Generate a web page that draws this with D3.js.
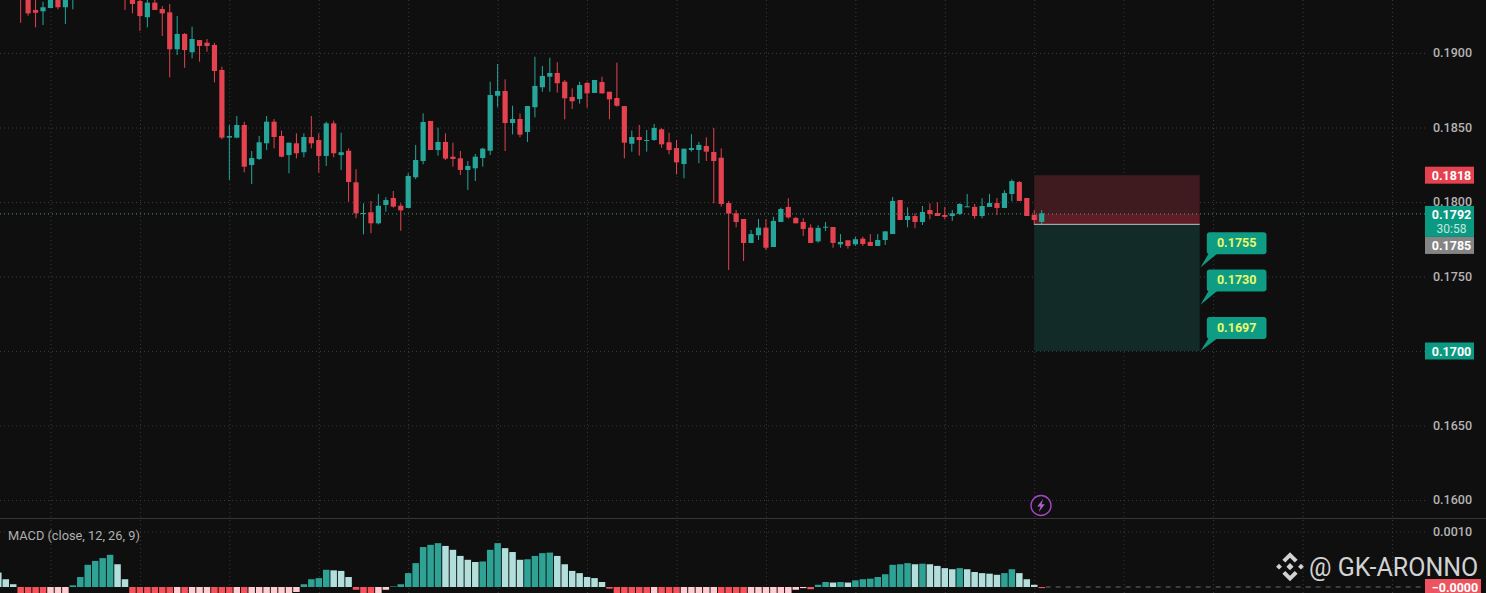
<!DOCTYPE html>
<html lang="en">
<head>
<meta charset="UTF-8">
<title>MACD candles</title>
<style>
    html, body { margin: 0; padding: 0; background: #0f0f0f; overflow: hidden; }
    svg { display: block; }
    text { font-family: Roboto, "Noto Sans", sans-serif; }
    .grid line { stroke: #3b3b3b; stroke-dasharray: 1 3; }
    .grid path { display: none; }
    .tickLabels path, .tickLabels line { display: none; }
    .tickLabels text { fill: #b4b4b4; font-size: 12.5px; font-weight: 500; }
</style>
</head>
<body>
<div id="chart"></div>
<script src="https://cdn.jsdelivr.net/npm/d3@7/dist/d3.min.js"></script>
<script>
// candle index 0 is the first one at the left edge, null = above the picture
var opens = [
    .19456,.19376,.19289,.19280,.19302,.19376,.19307,.19369,null,null,
    null,null,null,null,.19389,.19369,.19349,.19240,.19338,.19295,
    .19273,.19025,.19128,.19005,.19087,.19069,.19054,.18886,.18432,.18432,
    .18517,.18248,.18289,.18394,.18539,.18443,.18315,.18394,.18334,.18436,
    .18416,.18309,.18528,.18315,.18344,.18132,.17922,.17931,.17857,.17980,
    .18027,.17975,.17960,.18166,.18275,.18544,.18349,.18403,.18304,.18293,
    .18215,.18226,.18295,.18344,.18713,.18745,.18530,.18557,.18470,.18636,
    .18770,.18841,.18866,.18807,.18705,.18691,.18799,.18732,.18805,.18740,
    .18698,.18644,.18391,.18436,.18411,.18416,.18488,.18401,.18362,.18255,
    .18349,.18349,.18376,.18336,.18297,.17993,.17924,.17886,.17725,.17777,
    .17828,.17698,.17866,.17967,.17893,.17866,.17828,.17736,.17828,.17832,
    .17716,.17743,.17716,.17754,.17732,.17705,.17745,.17785,.18013,.17879,
    .17906,.17866,.17946,.17926,.17913,.17906,.17920,.17967,.17967,.17906,
    .17967,.17993,.17960,.18054,.18134,.18027,.17913,.17866
];
var highs = [
    .19490,.19423,.19369,.19344,.19396,.19389,.19409,.19436,null,null,
    null,null,null,null,.19423,.19389,.19382,.19369,.19356,.19315,
    .19329,.19248,.19134,.19177,.19087,.19094,.19069,.18908,.18517,.18577,
    .18539,.18342,.18443,.18577,.18557,.18479,.18398,.18461,.18461,.18577,
    .18461,.18539,.18546,.18465,.18360,.18220,.17991,.18007,.18054,.18032,
    .18074,.17991,.18193,.18383,.18595,.18544,.18499,.18461,.18398,.18342,
    .18275,.18322,.18364,.18807,.18926,.18823,.18646,.18595,.18644,.18975,
    .18913,.18968,.18938,.18819,.18763,.18807,.18807,.18819,.18841,.18740,
    .18935,.18644,.18479,.18517,.18483,.18524,.18495,.18465,.18416,.18358,
    .18456,.18403,.18434,.18497,.18360,.18007,.17946,.17886,.17812,.17886,
    .17886,.17901,.17962,.18025,.17901,.17891,.17850,.17844,.17866,.17832,
    .17785,.17743,.17767,.17767,.17785,.17785,.17803,.18034,.18013,.17964,
    .17924,.17973,.17991,.17998,.17967,.17946,.17991,.18054,.17987,.18025,
    .18054,.18027,.18079,.18152,.18141,.18027,.17946,.17946
];
var lows = [
    .19203,.19250,.19172,.19188,.19302,.19293,.19195,.19293,null,null,
    null,null,null,null,.19289,.19266,.19148,.19172,.19289,.19114,
    .18837,.18987,.18901,.18964,.18942,.19009,.18803,.18421,.18148,.18428,
    .18199,.18121,.18282,.18349,.18360,.18300,.18193,.18293,.18300,.18360,
    .18197,.18242,.18300,.18215,.18002,.17891,.17783,.17790,.17850,.17935,
    .17962,.17807,.17960,.18154,.18253,.18349,.18311,.18282,.18237,.18181,
    .18081,.18141,.18237,.18315,.18636,.18342,.18454,.18434,.18403,.18568,
    .18740,.18740,.18734,.18555,.18624,.18660,.18633,.18732,.18729,.18555,
    .18640,.18293,.18338,.18311,.18338,.18411,.18364,.18320,.18186,.18159,
    .18338,.18260,.18275,.17991,.17969,.17544,.17830,.17604,.17725,.17745,
    .17678,.17698,.17866,.17888,.17857,.17772,.17725,.17727,.17805,.17693,
    .17693,.17687,.17705,.17705,.17705,.17705,.17712,.17785,.17879,.17830,
    .17824,.17846,.17884,.17906,.17884,.17873,.17913,.17967,.17888,.17891,
    .17967,.17913,.17960,.18005,.18007,.17906,.17846,.17852
];
var closes = [
    .19389,.19266,.19270,.19307,.19376,.19307,.19376,.19409,null,null,
    null,null,null,null,.19362,.19329,.19248,.19338,.19289,.19266,
    .19025,.19128,.19020,.19094,.19047,.19047,.18879,.18432,.18443,.18517,
    .18237,.18295,.18401,.18539,.18436,.18304,.18398,.18327,.18436,.18394,
    .18309,.18528,.18327,.18334,.18134,.17924,.17926,.17857,.17975,.18013,
    .17969,.17944,.18175,.18282,.18537,.18349,.18403,.18291,.18289,.18215,
    .18242,.18304,.18358,.18718,.18745,.18530,.18557,.18452,.18644,.18779,
    .18846,.18866,.18797,.18696,.18676,.18785,.18729,.18819,.18729,.18689,
    .18646,.18398,.18436,.18416,.18416,.18497,.18387,.18349,.18266,.18358,
    .18362,.18383,.18338,.18275,.17987,.17922,.17866,.17725,.17785,.17828,
    .17693,.17873,.17953,.17897,.17857,.17819,.17725,.17826,.17834,.17725,
    .17732,.17705,.17750,.17718,.17705,.17745,.17803,.18007,.17879,.17906,
    .17866,.17933,.17920,.17906,.17900,.17924,.17987,.17971,.17906,.17973,
    .17993,.17960,.18060,.18141,.18007,.17906,.17879,.17924
];
// macd histogram, starts 3 bars left of candle 0
var histValues = [
    .00026,.00014,.00005,
    -.00018,-.00025,-.00032,-.00036,-.00032,-.00027,-.00018,.00003,.00018,.0004,.00047,.00052,.00058,.00041,.00014,
    -.00011,-.00018,-.00025,-.00032,-.00038,-.00043,-.00041,-.00043,-.00041,-.0004,-.00038,-.00041,-.00045,-.00049,
    -.00047,-.00049,-.00047,-.00043,-.0004,-.00036,-.00031,-.00023,-.00009,.00005,.00014,.00016,.00031,.0003,.00029,
    .00018,-.00005,-.00014,-.00025,-.00016,-.00005,.00001,.00005,.00025,.00043,.00072,.00076,.00079,.00074,.00067,
    .00056,.00049,.00045,.00046,.00067,.00079,.0007,.00063,.00049,.0005,.00056,.00061,.00062,.00056,.00041,.00029,
    .00025,.00018,.00016,.00009,-.00003,-.00014,-.00022,-.00029,-.00034,-.0004,-.00038,-.0004,-.00041,-.00043,
    -.00041,-.0004,-.00038,-.00036,-.00034,-.00036,-.0004,-.00043,-.00045,-.00043,-.0004,-.00036,-.00031,-.00023,
    -.00014,-.00005,-.00002,-.00004,.00004,.00009,.00008,.00009,.00008,.00012,.00014,.00015,.00018,.00023,.0004,
    .00041,.00043,.00041,.00042,.00041,.00038,.00034,.00032,.00034,.00032,.00027,.00025,.00024,.00022,.00025,
    .00032,.00025,.00014,.00004,-.00002
];

var priceTicks = [.19, .185, .18, .175, .17, .165, .16];
var macdTicks = [.001];
var timeTicks = [4, 16, 28, 40, 52, 64, 76, 88, 100, 112, 124, 136, 148, 160, 172, 184];

// position tool
var stopPrice = .1818, entryPrice = .1785, targetPrice = .17, lastPrice = .1792;
var positionStart = 136, positionEnd = 158.2;
var calloutLabels = ["0.1755", "0.1730", "0.1697"];
var calloutTips = [.1756, .1731, .1700];
var calloutBottoms = [.1765, .1740, .1708];

var width = 1486, height = 593;
var axisLeft = 1425;

var upCol = "#26a69a", downCol = "#e4424f";

var xScale = d3.scaleLinear().domain([0, 137]).range([20.67, 1041.7]);
var yPrice = d3.scaleLinear().domain([.16, .19]).range([500, 53]);
var yMacd = d3.scaleLinear().domain([0, .001]).range([587, 531.5]);

var svg = d3.select("#chart").append("svg")
    .attr("width", width)
    .attr("height", height);

/*背景网格*/
svg.append("g").attr("class", "grid")
    .call(d3.axisBottom(xScale).tickValues(timeTicks).tickSize(height).tickFormat(""));
svg.append("g").attr("class", "grid")
    .call(d3.axisRight(yPrice).tickValues(priceTicks).tickSize(axisLeft).tickFormat(""));
svg.append("g").attr("class", "grid")
    .call(d3.axisRight(yMacd).tickValues(macdTicks).tickSize(axisLeft).tickFormat(""));

/*pane separator*/
svg.append("line")
    .attr("x1", 0).attr("x2", width)
    .attr("y1", 518.5).attr("y2", 518.5)
    .attr("stroke", "#363636");

/*position boxes*/
var boxX = xScale(positionStart), boxW = xScale(positionEnd) - boxX;
svg.append("rect")
    .attr("x", boxX).attr("width", boxW)
    .attr("y", yPrice(stopPrice))
    .attr("height", yPrice(lastPrice) - yPrice(stopPrice))
    .attr("fill", "#3f1a1e");
svg.append("rect")
    .attr("x", boxX).attr("width", boxW)
    .attr("y", yPrice(lastPrice))
    .attr("height", yPrice(entryPrice) - yPrice(lastPrice))
    .attr("fill", "#5f1e27");
svg.append("rect")
    .attr("x", boxX).attr("width", boxW)
    .attr("y", yPrice(entryPrice))
    .attr("height", yPrice(targetPrice) - yPrice(entryPrice))
    .attr("fill", "#122b28");

/*last price line*/
svg.append("line")
    .attr("x1", 0).attr("x2", axisLeft)
    .attr("y1", yPrice(lastPrice)).attr("y2", yPrice(lastPrice))
    .attr("stroke", "#4f9e8f")
    .attr("stroke-dasharray", "1 3");

/*macd zero line, dashed part after the bars*/
svg.append("line")
    .attr("x1", xScale(137) + 4).attr("x2", axisLeft)
    .attr("y1", yMacd(0)).attr("y2", yMacd(0))
    .attr("stroke", "#6a6a6a")
    .attr("stroke-dasharray", "5 5");

/*蜡烛*/
var candleData = d3.range(opens.length).filter(function (i) {
    return opens[i] !== null;
});
var candleCol = function (i) {
    return closes[i] >= opens[i] ? upCol : downCol;
};
var candles = svg.append("g").selectAll("g")
    .data(candleData)
    .enter()
    .append("g");
candles.append("line")
    .attr("x1", function (i) { return xScale(i); })
    .attr("x2", function (i) { return xScale(i); })
    .attr("y1", function (i) { return yPrice(highs[i]); })
    .attr("y2", function (i) { return yPrice(lows[i]); })
    .attr("stroke", candleCol)
    .attr("stroke-width", 1);
candles.append("rect")
    .attr("x", function (i) { return xScale(i) - 2.6; })
    .attr("width", 5.2)
    .attr("y", function (i) { return yPrice(Math.max(opens[i], closes[i])); })
    .attr("height", function (i) {
        return Math.max(1, Math.abs(yPrice(opens[i]) - yPrice(closes[i])));
    })
    .attr("fill", candleCol);

/*entry line goes over the candles*/
svg.append("line")
    .attr("x1", boxX).attr("x2", boxX + boxW)
    .attr("y1", yPrice(entryPrice)).attr("y2", yPrice(entryPrice))
    .attr("stroke", "#b9c2c0")
    .attr("stroke-width", 1);

/*macd柱*/
var histCol = function (d, i) {
    var prev = i > 0 ? histValues[i - 1] : d + 1;
    if (d >= 0) return prev < d ? "#2fa296" : "#b2dfdb";
    return prev < d ? "#ffcdd2" : "#f5525c";
};
svg.append("g").selectAll("rect")
    .data(histValues)
    .enter()
    .append("rect")
    .attr("x", function (d, i) { return xScale(i - 3) - 3.25; })
    .attr("width", 6.5)
    .attr("y", function (d) { return Math.min(yMacd(d), yMacd(0)); })
    .attr("height", function (d) { return Math.abs(yMacd(d) - yMacd(0)); })
    .attr("fill", histCol);

/*价格轴标签*/
svg.append("g").attr("class", "tickLabels")
    .attr("transform", "translate(1424,-0.5)")
    .call(d3.axisRight(yPrice).tickValues(priceTicks).tickSize(0).tickPadding(9).tickFormat(d3.format(".4f")));
svg.append("g").attr("class", "tickLabels")
    .attr("transform", "translate(1424,-0.5)")
    .call(d3.axisRight(yMacd).tickValues(macdTicks).tickSize(0).tickPadding(9).tickFormat(d3.format(".4f")));

function priceTag(y, h, col, label, textCol) {
    svg.append("rect")
        .attr("x", axisLeft).attr("width", 49)
        .attr("y", y).attr("height", h)
        .attr("fill", col);
    svg.append("text")
        .attr("x", 1451.5).attr("y", y + 13)
        .attr("text-anchor", "middle")
        .attr("fill", textCol || "#fff")
        .attr("font-size", 12.5)
        .attr("font-weight", 700)
        .text(label);
}
var fmt = d3.format(".4f");
priceTag(yPrice(stopPrice) - 8.5, 17, "#e4424f", fmt(stopPrice));
var lastTop = yPrice(lastPrice) - 8;
priceTag(lastTop, 31, "#0a9a82", fmt(lastPrice));
svg.append("text")
    .attr("x", 1451.5).attr("y", lastTop + 27)
    .attr("text-anchor", "middle")
    .attr("fill", "#c6e6df")
    .attr("font-size", 12)
    .text("30:58");
// entry tag gets pushed under the last price tag
priceTag(lastTop + 31, 17, "#858585", fmt(entryPrice));
priceTag(yPrice(targetPrice) - 8.5, 17, "#0a9a82", fmt(targetPrice));

/*callouts*/
calloutLabels.forEach(function (label, i) {
    var tipY = yPrice(calloutTips[i]);
    var boxRight = 1266.5, boxLeft = 1206.8, boxBottom = yPrice(calloutBottoms[i]);
    var g = svg.append("g");
    g.append("path")
        .attr("d", d3.line()([[1200.5, tipY], [boxLeft + 2, boxBottom - 1], [boxLeft + 11, boxBottom - 1]]) + "Z")
        .attr("fill", "#0f9c84");
    g.append("rect")
        .attr("x", boxLeft).attr("y", boxBottom - 22)
        .attr("width", boxRight - boxLeft).attr("height", 22)
        .attr("rx", 3)
        .attr("fill", "#0f9c84");
    g.append("text")
        .attr("x", (boxLeft + boxRight) / 2).attr("y", boxBottom - 7)
        .attr("text-anchor", "middle")
        .attr("fill", "#e9f86c")
        .attr("font-size", 12.5)
        .attr("font-weight", 700)
        .text(label);
});

/*macd title*/
svg.append("text")
    .attr("x", 8).attr("y", 540)
    .attr("fill", "#b0b0b0")
    .attr("font-size", 12.8)
    .text("MACD (close, 12, 26, 9)");

/*bottom macd tag*/
svg.append("rect")
    .attr("x", 1425).attr("y", 579).attr("width", 56).attr("height", 14)
    .attr("fill", "#ee5460");
svg.append("text")
    .attr("x", 1455).attr("y", 591.5)
    .attr("text-anchor", "middle")
    .attr("fill", "#fff")
    .attr("font-size", 12.5)
    .attr("font-weight", 700)
    .text("\u22120.0000");

/*lightning marker*/
var flash = svg.append("g").attr("transform", "translate(1041,505.5)");
flash.append("circle")
    .attr("r", 10)
    .attr("fill", "#0f0f0f")
    .attr("stroke", "#a546c9")
    .attr("stroke-width", 1.4);
flash.append("path")
    .attr("d", "M2.2,-6.5 L-3.8,1 L-0.5,1 L-2.2,6.5 L3.8,-1.2 L0.5,-1.2 Z")
    .attr("fill", "#b060d0");

/*watermark*/
var mark = svg.append("g").attr("transform", "translate(1290,566.7) scale(1.12)").attr("fill", "#d2d2d2");
[
    "M0,-13 L6.8,-6.2 L4.2,-3.8 L0,-8 L-4.2,-3.8 L-6.8,-6.2 Z",
    "M0,13 L6.8,6.2 L4.2,3.8 L0,8 L-4.2,3.8 L-6.8,6.2 Z",
    "M0,-3.2 L3.2,0 L0,3.2 L-3.2,0 Z",
    "M-9.8,-2.6 L-7.2,0 L-9.8,2.6 L-12.4,0 Z",
    "M9.8,-2.6 L12.4,0 L9.8,2.6 L7.2,0 Z"
].forEach(function (d) {
    mark.append("path").attr("d", d);
});
svg.append("text")
    .attr("x", 1309).attr("y", 576)
    .attr("fill", "#d2d2d2")
    .attr("font-family", "'Open Sans', sans-serif")
    .attr("font-size", 25)
    .text("@ GK-ARONNO");
</script>
</body>
</html>
